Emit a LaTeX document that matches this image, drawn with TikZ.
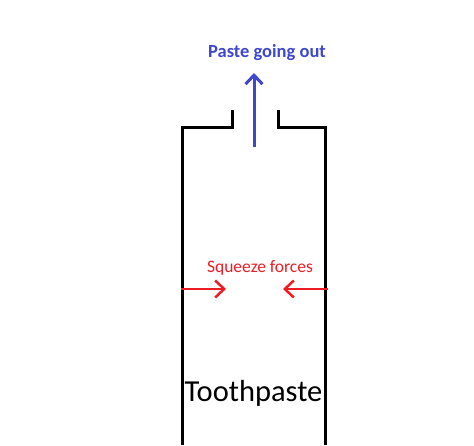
\documentclass[tikz,border=0pt]{standalone}
\usepackage{fontspec}
\setmainfont{Carlito}
\usetikzlibrary{arrows.meta,positioning}
\definecolor{pasteblue}{RGB}{63,72,204}
\definecolor{forcered}{RGB}{237,28,36}
\begin{document}
\begin{tikzpicture}[x=1pt,y=-1pt,
    every node/.style={inner sep=0pt},
    wall/.style={line width=3pt},
    push/.style={-{Straight Barb[length=9pt,width=17pt]}}]
                \useasboundingbox (0,0) rectangle (474,445);
                \draw[wall] (182,445) -- (182,127) -- (232,127) -- (232,110);
                \draw[wall] (278,110) -- (278,127) -- (325,127) -- (325,445);
                \coordinate (o1) at (254,147);
                \coordinate (o2) at (254,73);
                \coordinate (l1) at (181,289);
                \coordinate (l2) at (226,289);
                \coordinate (r1) at (328,289);
                \coordinate (r2) at (283,289);
                \node[pasteblue, font=\bfseries\fontsize{18.5}{20}\selectfont] (n1) at (267,53) {Paste going out};
                \node[forcered, font=\fontsize{17.5}{20}\selectfont] (n2) at (260,268) {Squeeze forces};
                \node[font=\fontsize{30.5}{33}\selectfont] (n3) at (253.5,393) {Toothpaste};
                \draw[push, pasteblue, line width=3pt] (o1) -- (o2);
                \draw[push, forcered, line width=2.5pt] (l1) -- (l2);
                \draw[push, forcered, line width=2.5pt] (r1) -- (r2);
\end{tikzpicture}
\end{document}
